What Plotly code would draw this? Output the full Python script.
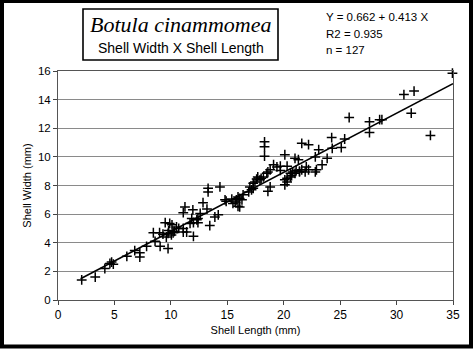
import plotly.graph_objects as go

# Data (Shell Length mm, Shell Width mm)
shell_length = [
    2.1, 3.3, 4.15, 4.6, 4.75, 4.9, 6.1, 6.8, 7.25, 7.25, 7.85,
    8.45, 8.6, 9.0, 9.05, 9.5, 9.6, 9.75, 9.75, 9.9, 10.05, 10.1, 10.5, 10.3, 10.7, 9.3, 9.8, 10.2,
    11.1, 11.25, 11.1, 11.4, 11.1, 11.7, 11.85, 11.95, 12.0, 12.0, 12.3, 12.4, 12.4, 12.6, 12.85,
    13.2, 13.3, 13.3, 13.45, 13.9, 14.2, 14.35, 14.9,
    14.8, 15.4, 15.5, 15.7, 15.95, 16.1, 15.8, 15.95, 16.1, 16.3, 16.4, 17.0, 17.15, 16.9, 17.3,
    17.3, 17.45, 17.6, 17.7, 18.0, 18.2, 17.9,
    18.3, 18.3, 18.3, 18.6, 18.8, 18.5, 18.6, 18.8, 19.1, 19.4, 19.7, 19.7, 20.1, 20.3, 20.1,
    20.1, 20.3, 20.3, 20.6, 20.6, 20.7, 20.8, 21.0, 21.0, 21.1, 21.3, 21.4, 21.4, 21.6, 21.6,
    21.9, 22.0, 22.2, 22.2, 22.8, 22.8, 22.9, 23.1, 23.4, 23.85, 24.25, 24.3, 25.1, 25.4, 25.8,
    27.6, 27.6, 28.5, 28.7, 30.65, 31.55, 31.3, 33.0, 34.95,
]
shell_width = [
    1.4, 1.6, 2.2, 2.55, 2.65, 2.5, 3.05, 3.45, 3.3, 3.0, 3.75,
    4.7, 4.1, 4.7, 3.75, 5.4, 4.4, 4.65, 3.6, 5.35, 4.55, 5.25, 5.1, 4.8, 5.0, 4.6, 4.85, 4.7,
    6.1, 6.5, 4.75, 4.75, 5.0, 5.35, 5.7, 6.3, 5.4, 4.45, 5.6, 5.7, 5.4, 6.05, 6.8,
    6.35, 7.8, 7.55, 5.2, 5.8, 5.95, 7.9, 6.9,
    7.0, 7.05, 6.75, 6.85, 6.55, 6.5, 7.0, 7.2, 7.1, 7.0, 7.35, 7.9, 7.7, 7.55, 7.8,
    8.15, 8.25, 8.45, 8.6, 8.5, 8.6, 8.4,
    11.05, 10.7, 10.05, 7.6, 7.9, 8.85, 8.95, 9.1, 9.45, 9.3, 9.35, 9.05, 10.15, 9.35, 8.05,
    8.4, 8.25, 8.5, 8.6, 8.85, 8.7, 8.95, 9.9, 8.85, 9.05, 9.8, 9.0, 8.95, 10.95, 9.1,
    8.95, 9.3, 10.85, 9.1, 10.0, 8.95, 9.1, 10.5, 9.45, 9.9, 11.35, 10.6, 10.65, 11.25, 12.75,
    12.45, 11.7, 12.6, 12.6, 14.35, 14.6, 13.05, 11.5, 15.85,
]

intercept = 0.662
slope = 0.413
fit_x = [2.0, 35.0]
fit_y = [intercept + slope * v for v in fit_x]

x_ticks = [0, 5, 10, 15, 20, 25, 30, 35]
y_ticks = [0, 2, 4, 6, 8, 10, 12, 14, 16]

title_main = "Botula cinammomea"
title_sub = "Shell Width X Shell Length"
stats_lines = ["Y = 0.662 + 0.413 X", "R2 = 0.935", "n = 127"]

W, H = 474, 349
L, R, T, B = 58, 21, 71, 49
PW, PH = W - L - R, H - T - B


def px(p):
    return (p - L) / PW


def py(p):
    return (H - B - p) / PH


SANS = "Liberation Sans Narrow, Arial Narrow, Liberation Sans, Arial"

fig = go.Figure()
fig.add_trace(go.Scatter(
    x=shell_length, y=shell_width, mode="markers",
    marker=dict(symbol="cross-thin", size=7, line=dict(color="black", width=1.5)),
    showlegend=False, cliponaxis=False,
))
fig.add_trace(go.Scatter(
    x=fit_x, y=fit_y, mode="lines", line=dict(color="black", width=1.6),
    showlegend=False,
))

shapes = [
    # outer frame
    dict(type="rect", xref="paper", yref="paper",
         x0=px(2), x1=px(W - 3), y0=py(H - 2.5), y1=py(1),
         line=dict(color="black", width=4)),
    # title box
    dict(type="rect", xref="paper", yref="paper",
         x0=px(83), x1=px(278), y0=py(60), y1=py(9),
         line=dict(color="black", width=1.6)),
]

annotations = [
    dict(text="<i>" + title_main + "</i>", xref="paper", yref="paper",
         x=px(180.5), y=py(24), xanchor="center", yanchor="middle", showarrow=False,
         font=dict(family="Liberation Serif, Times New Roman, serif", size=22, color="black")),
    dict(text=title_sub, xref="paper", yref="paper",
         x=px(180.5), y=py(48), xanchor="center", yanchor="middle", showarrow=False,
         font=dict(family=SANS, size=14, color="black")),
]
for i, s in enumerate(stats_lines):
    annotations.append(dict(text=s, xref="paper", yref="paper", xanchor="left",
                            yanchor="middle",
                            x=px(324), y=py(17 + i * 16.5), showarrow=False,
                            font=dict(family=SANS, size=11.5, color="black")))

fig.update_layout(
    width=W, height=H,
    margin=dict(l=L, r=R, t=T, b=B),
    paper_bgcolor="white", plot_bgcolor="white",
    shapes=shapes, annotations=annotations,
    font=dict(family=SANS, size=12, color="black"),
    xaxis=dict(range=[0, 35], tickvals=x_ticks, ticks="outside", ticklen=4,
               showgrid=False, zeroline=False, showline=True, linecolor="#555",
               linewidth=1, mirror=True,
               tickfont=dict(size=12),
               title=dict(text="Shell Length (mm)", font=dict(size=11), standoff=4)),
    yaxis=dict(range=[0, 16], tickvals=y_ticks, ticks="outside", ticklen=4,
               showgrid=True, gridcolor="#8a8a8a", gridwidth=1,
               zeroline=False, showline=True, linecolor="#555",
               linewidth=1, mirror=True,
               tickfont=dict(size=11.5),
               title=dict(text="Shell Width (mm)", font=dict(size=11), standoff=4)),
)

fig.write_html("out.html")
